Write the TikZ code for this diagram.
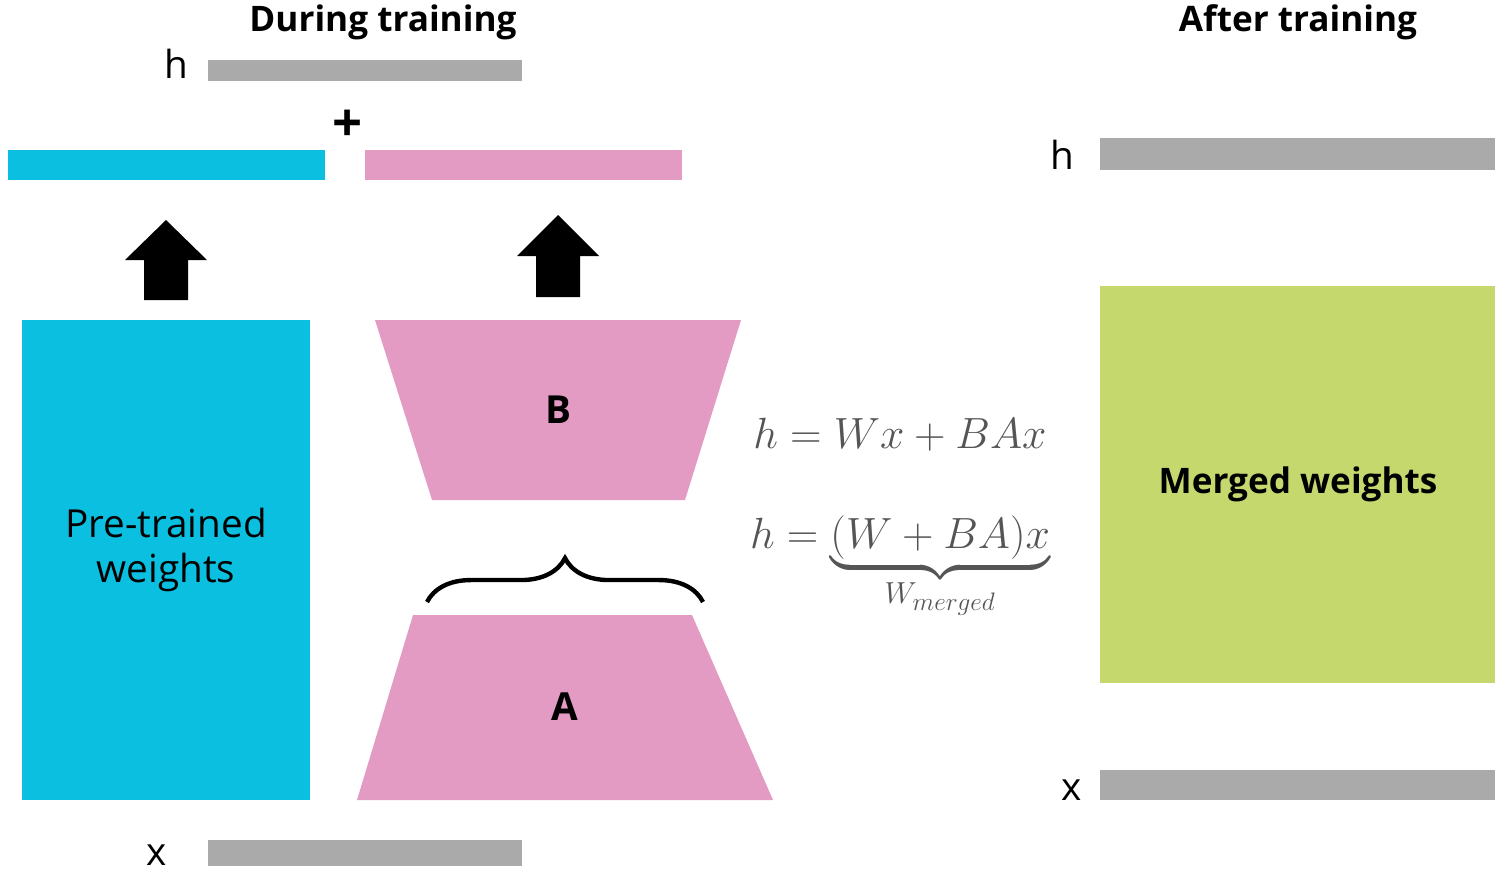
\documentclass[tikz,border=0pt]{standalone}
\usepackage{fontspec}
\setmainfont{Open Sans}
\usepackage{amsmath}
\usetikzlibrary{decorations.pathreplacing}
\definecolor{lcyan}{HTML}{0BBFE0}
\definecolor{lpink}{HTML}{E39BC4}
\definecolor{lgray}{HTML}{AAAAAA}
\definecolor{lgreen}{HTML}{C5D86D}
\definecolor{eqgray}{HTML}{555555}
\tikzset{
  bar/.style={fill=lgray, draw=none},
  lbl/.style={font=\fontsize{22}{26}\selectfont},
  title/.style={font=\fontsize{20}{24}\selectfont\bfseries},
  eq/.style={text=eqgray, font=\fontsize{27}{32}\selectfont},
  bigarrow/.style={fill=black}
}
\begin{document}
\begin{tikzpicture}[x=0.02cm, y=-0.02cm]
    \useasboundingbox (0,0) rectangle (1500,873);
    % titles
    \node[title] (during) at (383,22) {During training};
    \node[title] (after) at (1298,22) {After training};
    % during training: bars
    \node[lbl] (hl) at (176,64) {h};
    \fill[bar] (208,60) rectangle (522,81);
    \node[lbl] (xl) at (157,855) {x};
    \fill[bar] (208,840) rectangle (522,866);
    \fill[lcyan] (8,150) rectangle (325,180);
    \fill[lpink] (365,150) rectangle (682,180);
    \node[font=\fontsize{30}{30}\selectfont\bfseries] (plus) at (348,126) {+};
    % arrows
    \fill[bigarrow] (166,220) -- (207,260) -- (188,260) -- (188,300) -- (144,300) -- (144,260) -- (125,260) -- cycle;
    \fill[bigarrow] (558,215) -- (599,256) -- (580,256) -- (580,297) -- (536,297) -- (536,256) -- (517,256) -- cycle;
    % weights
    \fill[lcyan] (22,320) rectangle (310,800);
    \node[lbl, align=center] (pre) at (166,550) {Pre-trained\\weights};
    \fill[lpink] (375,320) -- (741,320) -- (685,500) -- (432,500) -- cycle;
    \node[lbl, font=\fontsize{22}{26}\selectfont\bfseries] (B) at (558,410) {B};
    \fill[lpink] (413,615) -- (692,615) -- (773,800) -- (357,800) -- cycle;
    \node[lbl, font=\fontsize{22}{26}\selectfont\bfseries] (A) at (565,707) {A};
    \draw[line width=2.5pt, decorate, decoration={brace, amplitude=25pt}]
        (427,602) -- (703,602);
    % equations
    \node[eq] (eq1) at (900,435) {$h = Wx + BAx$};
    \node[eq, anchor=north] (eq2) at (900,510) {$h = \underbrace{(W + BA)x}_{W_{merged}}$};
    % after training
    \node[lbl] (hr) at (1062,155) {h};
    \fill[bar] (1100,138) rectangle (1495,170);
    \fill[lgreen] (1100,286) rectangle (1495,683);
    \node[font=\fontsize{20}{24}\selectfont\bfseries] (merged) at (1298,484) {Merged weights};
    \node[lbl] (xr) at (1072,790) {x};
    \fill[bar] (1100,770) rectangle (1495,800);
\end{tikzpicture}
\end{document}
